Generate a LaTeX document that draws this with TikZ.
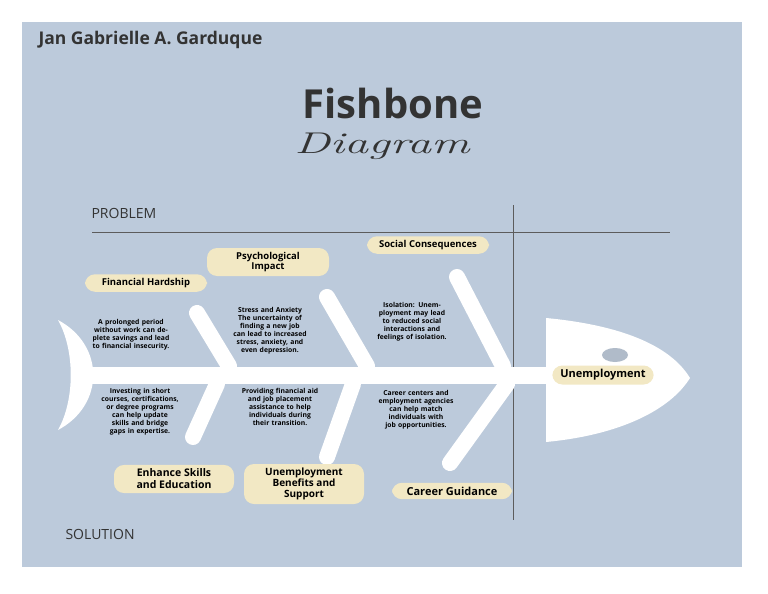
\documentclass[tikz,border=0pt]{standalone}
\usepackage{fontspec}
\setmainfont{Open Sans}
\newfontfamily\scriptf{Latin Modern Roman}
\usetikzlibrary{shapes.geometric}
\definecolor{bg}{HTML}{BCCADB}
\definecolor{lbl}{HTML}{F2E8C4}
\definecolor{dk}{HTML}{333333}
\begin{document}
\begin{tikzpicture}[x=1pt,y=-1pt,
  bone/.style={white,line width=16pt,line cap=round},
  tag/.style={fill=lbl,rounded corners=10pt,font=\fontsize{9.5}{10.5}\selectfont\bfseries,text=black,align=center,inner xsep=8pt,inner ysep=4pt},
  body/.style={font=\fontsize{6.8}{8}\selectfont\bfseries,text=black,align=center,text width=78pt}]
\useasboundingbox (0,0) rectangle (768,594);
\fill[white] (0,0) rectangle (768,594);
\fill[bg] (22,22) rectangle (742,567);
\node[anchor=west,font=\fontsize{17.5}{19}\selectfont\bfseries,text=dk] (author) at (35,40) {Jan Gabrielle A. Garduque};
\node[font=\fontsize{40}{42}\selectfont\bfseries,text=dk] (t1) at (393,103) {Fishbone};
\node[font=\fontsize{30}{32}\selectfont\scriptf\itshape,text=dk,xscale=1.6] (t2) at (382,146) {Diagram};
\node[anchor=west,font=\fontsize{14}{16}\selectfont,text=dk] (prob) at (88,213) {PROBLEM};
\node[anchor=west,font=\fontsize{14}{16}\selectfont,text=dk] (sol) at (62,534) {SOLUTION};
\draw[dk!80,line width=0.6pt] (92,232) -- (670,232);
\draw[dk!80,line width=0.6pt] (513,205) -- (513,520);
% tail
\fill[white] (58,320) .. controls (105,345) and (105,405) .. (58,430) .. controls (75,400) and (75,350) .. (58,320);
% spine
\draw[white,line width=17pt] (75,375) -- (560,375);
% head
\fill[white] (546,318) .. controls (620,325) and (670,345) .. (690,378) .. controls (670,410) and (620,435) .. (546,442) -- cycle;
\fill[bg!80!gray] (615,355) ellipse (13pt and 7pt);
% bones
\draw[bone] (197,313) -- (229,366);
\draw[bone] (327,297) -- (367,366);
\draw[bone] (457,277) -- (503,366);
\draw[bone] (217,384) -- (193,437);
\draw[bone] (353,384) -- (327,457);
\draw[bone] (507,384) -- (450,463);
% tags
\node[tag] (un) at (603,375) {\fontsize{11}{12}\selectfont Unemployment};
\node[tag,minimum width=122pt] (fh) at (146,283) {Financial Hardship};
\node[tag,minimum width=122pt] (pi) at (268,262) {Psychological\\Impact};
\node[tag,minimum width=122pt] (sc) at (428,245) {Social Consequences};
\node[tag,minimum width=120pt,font=\fontsize{10.5}{12}\selectfont\bfseries] (es) at (174,479) {Enhance Skills\\and Education};
\node[tag,minimum width=120pt,font=\fontsize{10}{11}\selectfont\bfseries] (ub) at (304,484) {Unemployment\\Benefits and\\Support};
\node[tag,minimum width=120pt] (career) at (452,491) {\fontsize{11}{12}\selectfont Career Guidance};
\node[body] (b1) at (131,335) {A prolonged period without work can deplete savings and lead to financial insecurity.};
\node[body] (b2) at (270,331) {Stress and Anxiety The uncertainty of finding a new job can lead to increased stress, anxiety, and even depression.};
\node[body] (b3) at (412,322) {Isolation: Unemployment may lead to reduced social interactions and feelings of isolation.};
\node[body,text width=84pt] (b4) at (140,412) {Investing in short courses, certifications, or degree programs can help update skills and bridge gaps in expertise.};
\node[body] (b5) at (280,407) {Providing financial aid and job placement assistance to help individuals during their transition.};
\node[body] (b6) at (416,410) {Career centers and employment agencies can help match individuals with job opportunities.};
\end{tikzpicture}
\end{document}
